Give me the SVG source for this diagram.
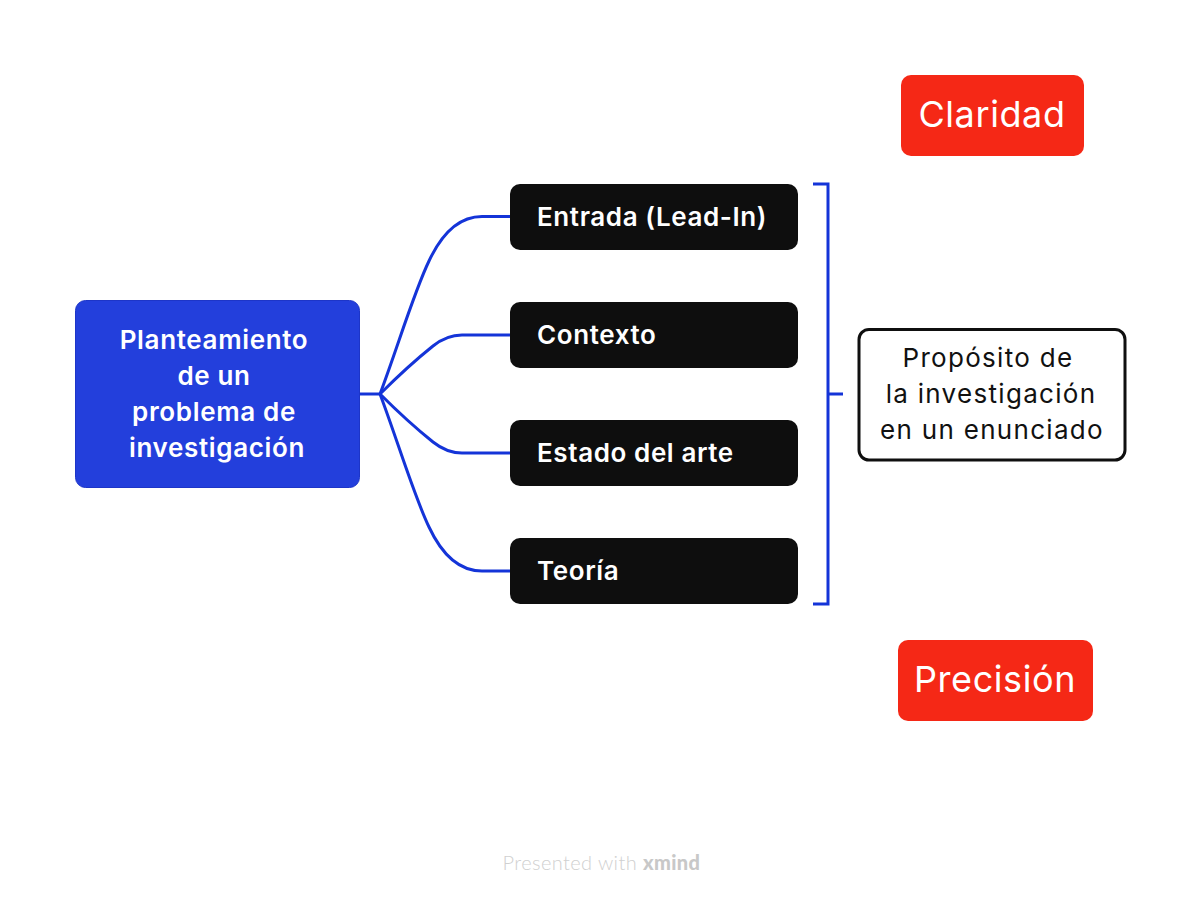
<svg xmlns="http://www.w3.org/2000/svg" width="1200" height="900" viewBox="0 0 1200 900">
<style>
text{font-family:"Inter","Noto Sans","Liberation Sans",sans-serif;text-anchor:middle}
.root{fill:#233fdc;stroke:#1d35c8;stroke-width:1}
.sub{fill:#0e0e0e}
.red{fill:#f52816}
.wt{fill:#fff;font-weight:600;font-size:26px;letter-spacing:.65px}
.bt{fill:#fff;font-weight:600;font-size:26px;letter-spacing:.6px;text-anchor:start}
.rt{fill:#fff;font-size:36px;letter-spacing:.6px}
.pt{fill:#111;font-size:26px;letter-spacing:1.3px}
.line{fill:none;stroke:#1434d8;stroke-width:3}
</style>
<rect width="1200" height="900" fill="#fff"/>
<g id="connectors">
<path class="line" d="M360 394H380"/>
<path class="line" d="M380 394C398 346 414 292 429 261C443 231 460 216.500 482 216.500H510"/>
<path class="line" d="M380 394C400 374 418 358 433 346C443 338 452 335 462 335H510"/>
<path class="line" d="M380 394C400 414 418 430 433 442C443 450 452 453 462 453H510"/>
<path class="line" d="M380 394C398 442 414 496 429 527C443 557 460 571 482 571H510"/>
<path class="line" d="M813 184H828V604H813M828 394H843"/>
</g>
<g id="root"><rect class="root" x="75.500" y="300.500" width="284" height="187" rx="10"/>
<text class="wt" x="214" y="349">Planteamiento</text><text class="wt" x="214" y="385">de un</text><text class="wt" x="214" y="421">problema de</text><text class="wt" x="217" y="457">investigación</text></g>
<g id="n1"><rect class="sub" x="510" y="184" width="288" height="66" rx="10"/><text class="bt" x="537" y="226">Entrada (Lead-In)</text></g>
<g id="n2"><rect class="sub" x="510" y="302" width="288" height="66" rx="10"/><text class="bt" x="537" y="344">Contexto</text></g>
<g id="n3"><rect class="sub" x="510" y="420" width="288" height="66" rx="10"/><text class="bt" x="537" y="462">Estado del arte</text></g>
<g id="n4"><rect class="sub" x="510" y="538" width="288" height="66" rx="10"/><text class="bt" x="537" y="580">Teoría</text></g>
<g id="summary"><rect x="859" y="329.500" width="266" height="130.500" rx="10" fill="#fff" stroke="#0f0f0f" stroke-width="3"/>
<text class="pt" x="988" y="367">Propósito de</text><text class="pt" x="991" y="403">la investigación</text><text class="pt" x="992" y="439">en un enunciado</text></g>
<g id="claridad"><rect class="red" x="901" y="75" width="183" height="81" rx="10"/><text class="rt" x="992" y="127">Claridad</text></g>
<g id="precision"><rect class="red" x="898" y="640" width="195" height="81" rx="10"/><text class="rt" x="995" y="692">Precisión</text></g>
<text x="601.500" y="870" font-size="20" fill="#d0d0d0" letter-spacing=".4" style="font-family:'Lato','Open Sans',sans-serif;font-weight:300">Presented with <tspan font-weight="900" fill="#c8c8c8">xmind</tspan></text>
</svg>
